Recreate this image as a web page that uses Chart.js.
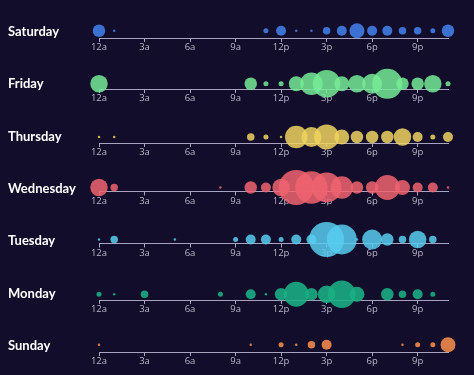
<!DOCTYPE html>
<html>
<head>
<meta charset="utf-8">
<script src="https://cdn.jsdelivr.net/npm/chart.js@4/dist/chart.umd.min.js"></script>
<style>
    html, body { margin: 0; padding: 0; background: #110d2a; }
    #wrap { position: relative; width: 474px; height: 375px; overflow: hidden; }
    .row { position: absolute; left: 0; width: 474px; height: 52px; }
    .row canvas { display: block; }
    .day { position: absolute; left: 8px; font-family: Lato, sans-serif; font-weight: 700;
           font-size: 13px; color: #ffffff; line-height: 16px; }
</style>
</head>
<body>
<div id="wrap"></div>
<script>
const days = ["Saturday", "Friday", "Thursday", "Wednesday", "Tuesday", "Monday", "Sunday"];
const hours = ["12a", "1a", "2a", "3a", "4a", "5a", "6a", "7a", "8a", "9a", "10a", "11a",
               "12p", "1p", "2p", "3p", "4p", "5p", "6p", "7p", "8p", "9p", "10p", "11p"];

const saturday  = [5, 1, 0, 0, 0, 0, 0, 0, 0, 0, 0, 2, 4, 1, 1, 3, 4, 6, 4, 4, 3, 3, 2, 5];
const friday    = [7, 0, 0, 0, 0, 0, 0, 0, 0, 0, 5, 2, 2, 6, 9, 11, 6, 7, 8, 12, 5, 5, 7, 2];
const thursday  = [1, 1, 0, 0, 0, 0, 0, 0, 0, 0, 3, 2, 1, 9, 8, 10, 6, 5, 5, 5, 7, 4, 2, 4];
const wednesday = [7, 3, 0, 0, 0, 0, 0, 0, 1, 0, 5, 4, 7, 14, 13, 12, 9, 5, 5, 10, 6, 4, 4, 1];
const tuesday   = [1, 3, 0, 0, 0, 1, 0, 0, 0, 2, 4, 4, 2, 4, 4, 14, 12, 1, 8, 5, 3, 7, 3, 0];
const monday    = [2, 1, 0, 3, 0, 0, 0, 0, 2, 0, 4, 1, 5, 10, 5, 7, 11, 6, 0, 5, 3, 4, 2, 0];
const sunday    = [1, 0, 0, 0, 0, 0, 0, 0, 0, 0, 1, 0, 2, 1, 3, 4, 0, 0, 0, 0, 1, 2, 2, 6];

const series = [saturday, friday, thursday, wednesday, tuesday, monday, sunday];
const colors = ["rgba(66,128,232,0.88)", "rgba(118,236,150,0.85)", "rgba(240,212,96,0.85)",
                "rgba(240,100,112,0.85)", "rgba(88,204,240,0.85)", "rgba(26,176,132,0.88)",
                "rgba(240,136,74,0.9)"];

const wrap = document.getElementById("wrap");

days.forEach((day, i) => {
    const top = Math.round(52.3 * i);

    const row = document.createElement("div");
    row.className = "row";
    row.style.top = top + "px";
    const canvas = document.createElement("canvas");
    canvas.width = 474;
    canvas.height = 52;
    row.appendChild(canvas);
    wrap.appendChild(row);

    const label = document.createElement("div");
    label.className = "day";
    label.style.top = (top + 23) + "px";
    label.innerText = day;
    wrap.appendChild(label);

    const points = [];
    series[i].forEach((v, h) => {
        if (v > 0) points.push({ x: h, y: 9, r: v * 1.25 });
    });

    new Chart(canvas, {
        type: "bubble",
        data: {
            datasets: [{
                label: day,
                data: points,
                backgroundColor: colors[i],
                borderWidth: 0,
                clip: false,
            }],
        },
        options: {
            responsive: false,
            animation: false,
            events: [],
            layout: { padding: { left: 99, right: 26, top: 0, bottom: 0 } },
            plugins: { legend: { display: false }, tooltip: { enabled: false } },
            scales: {
                x: {
                    type: "linear",
                    min: 0,
                    max: 23,
                    afterFit: (scale) => { scale.height = 14; },
                    grid: { drawOnChartArea: false, drawTicks: true, tickLength: 4, color: "#a9a3bf" },
                    border: { display: true, color: "#a9a3bf", width: 1 },
                    ticks: {
                        stepSize: 3,
                        includeBounds: false,
                        autoSkip: false,
                        maxRotation: 0,
                        padding: 0,
                        color: "#b9b5c9",
                        font: { family: "Open Sans", size: 9.5 },
                        callback: (v) => hours[v],
                    },
                },
                y: { display: false, min: 0, max: 38 },
            },
        },
    });
});
</script>
</body>
</html>
